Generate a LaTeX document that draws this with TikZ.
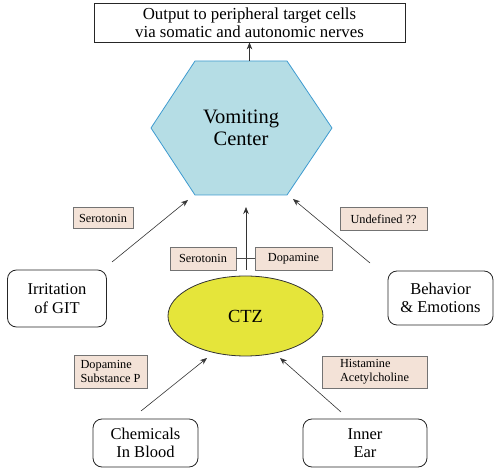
\documentclass[tikz,border=0pt]{standalone}
\usepackage{fontspec}
\setmainfont{Liberation Serif}
\usetikzlibrary{arrows.meta,calc,shapes.geometric}
\definecolor{hexfill}{HTML}{B5DDE5}
\definecolor{hexline}{HTML}{3E9BD0}
\definecolor{ctzfill}{HTML}{E5E53A}
\definecolor{lblfill}{HTML}{F3E2D7}
\begin{document}
\begin{tikzpicture}[x=1pt,y=-1pt,
  src/.style={draw=black!85, rounded corners=9pt, line width=0.8pt, align=center,
    font=\fontsize{16.5}{18.5}\selectfont, inner sep=0pt},
  lbl/.style={draw=black!55, fill=lblfill, line width=0.7pt, align=left,
    font=\fontsize{12.3}{14}\selectfont, inner sep=0pt},
  arr/.style={-{Stealth[length=7pt,width=5.5pt]}, line width=0.6pt, draw=black!80}]
\useasboundingbox (0,0) rectangle (496,470);
% output box
\node[draw=black!85, line width=0.8pt, minimum width=311pt, minimum height=39pt, align=center,
  font=\fontsize{16.8}{18}\selectfont, inner sep=0pt] (out) at (249.5,22.5)
  {Output to peripheral target cells\\via somatic and autonomic nerves};
% vomiting center hexagon
\coordinate (h1) at (195,61);
\coordinate (h2) at (287,61);
\coordinate (h3) at (332,128);
\coordinate (h4) at (287,195);
\coordinate (h5) at (195,195);
\coordinate (h6) at (151,128);
\draw[fill=hexfill, draw=hexline, line width=0.8pt] (h1) -- (h2) -- (h3) -- (h4) -- (h5) -- (h6) -- cycle;
\node[minimum width=181pt, minimum height=134pt, inner sep=0pt, align=center,
  font=\fontsize{20.5}{22}\selectfont] (vc) at (241,128) {Vomiting\\Center};
\draw[arr] (out.south |- vc.north) -- (out.south);
% CTZ
\node[ellipse, draw=black!80, fill=ctzfill, line width=0.8pt, minimum width=155pt, minimum height=80pt,
  font=\fontsize{18.5}{20}\selectfont] (ctz) at (245.5,316) {CTZ};
\coordinate (vbot) at (246,270);
\coordinate (vtop) at (246,207);
\draw[arr] (vbot) -- (vtop);
% labels
\node[lbl, minimum width=60pt, minimum height=20.5pt] (ser1) at (103,218) {Serotonin};
\node[lbl, minimum width=87pt, minimum height=23.5pt] (und) at (383.5,219) {Undefined ??};
\node[lbl, minimum width=66pt, minimum height=23pt] (ser2) at (203,258.5) {Serotonin};
\node[lbl, minimum width=77pt, minimum height=23pt] (dop) at (293.5,258.5) {Dopamine};
\draw[line width=0.7pt, draw=black!70] (ser2.east) -- (dop.west);
\node[lbl, minimum width=73pt, minimum height=33pt] (dsp) at (110.5,371.5) {Dopamine\\Substance P};
\node[lbl, minimum width=105pt, minimum height=32pt] (hac) at (374.5,372) {Histamine\\Acetylcholine};
% source boxes
\node[src, minimum width=99pt, minimum height=57pt] (git) at (57,298.5) {Irritation\\of GIT};
\node[src, minimum width=105pt, minimum height=54pt] (beh) at (440.5,298) {Behavior\\\& Emotions};
\node[src, minimum width=105pt, minimum height=48pt] (chem) at (145.5,443) {Chemicals\\In Blood};
\node[src, minimum width=124pt, minimum height=48pt] (ear) at (365,443) {Inner\\Ear};
% arrows
\coordinate (a1s) at (112,262); \coordinate (a1e) at (188,200);
\coordinate (a2s) at (370,263); \coordinate (a2e) at (293,199);
\coordinate (a3s) at (141,411); \coordinate (a3e) at (207,358);
\coordinate (a4s) at (341,412); \coordinate (a4e) at (280,358);
\draw[arr] (a1s) -- (a1e);
\draw[arr] (a2s) -- (a2e);
\draw[arr] (a3s) -- (a3e);
\draw[arr] (a4s) -- (a4e);
\end{tikzpicture}
\end{document}
